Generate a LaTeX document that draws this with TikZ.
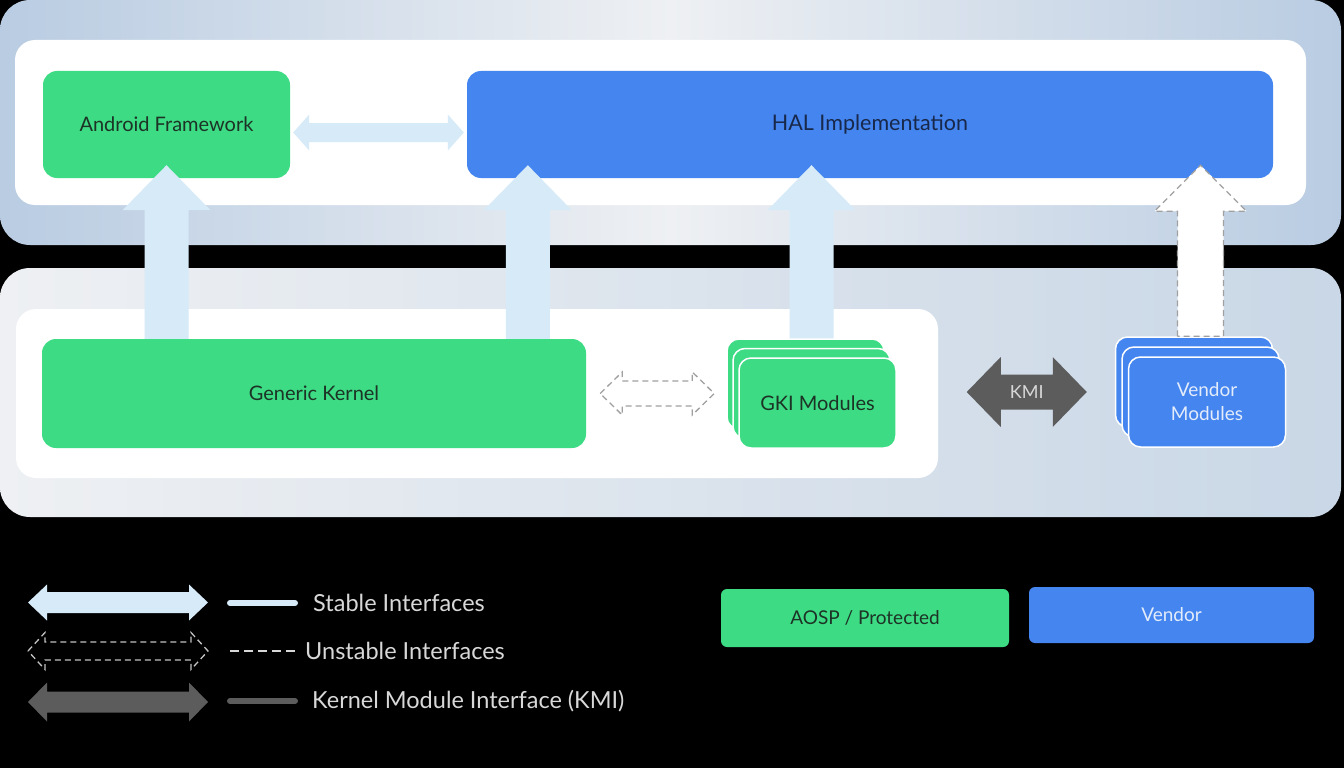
\documentclass[tikz,border=0pt]{standalone}
\usepackage{fontspec}
\setmainfont{Lato}
\usetikzlibrary{calc, positioning}

\definecolor{aospgreen}{HTML}{3DDB84}
\definecolor{vendorblue}{HTML}{4485EF}
\definecolor{stablefill}{HTML}{D6EAF8}
\definecolor{kmigray}{HTML}{5C5C5C}
\definecolor{greentext}{HTML}{1C3326}
\definecolor{bluetext}{HTML}{18284A}
\definecolor{lighttext}{HTML}{E3ECFA}
\definecolor{keygray}{HTML}{D8D8D8}
\definecolor{panelblue}{HTML}{B9CCE2}
\definecolor{panelgray}{HTML}{EEF0F3}
\definecolor{panelsteel}{HTML}{C9D7E6}
\definecolor{dashgray}{HTML}{A0A0A0}

% fat arrows drawn as outlines between two points
\tikzset{
  fat shaft/.store in=\fatshaft,
  fat head/.store in=\fathead,
  fat len/.store in=\fatlen,
  fat shaft=10pt, fat head=20pt, fat len=15pt,
  one way/.style={to path={
    ($(\tikztostart)!\fatshaft!90:(\tikztotarget)$)
    -- ($(\tikztotarget)!\fatlen!(\tikztostart)!\fatshaft!90:(\tikztotarget)$)
    -- ($(\tikztotarget)!\fatlen!(\tikztostart)!\fathead!90:(\tikztotarget)$)
    -- (\tikztotarget)
    -- ($(\tikztotarget)!\fatlen!(\tikztostart)!\fathead!-90:(\tikztotarget)$)
    -- ($(\tikztotarget)!\fatlen!(\tikztostart)!\fatshaft!-90:(\tikztotarget)$)
    -- ($(\tikztostart)!\fatshaft!-90:(\tikztotarget)$)
    -- cycle}},
  two way/.style={to path={
    (\tikztostart)
    -- ($(\tikztostart)!\fatlen!(\tikztotarget)!\fathead!90:(\tikztotarget)$)
    -- ($(\tikztostart)!\fatlen!(\tikztotarget)!\fatshaft!90:(\tikztotarget)$)
    -- ($(\tikztotarget)!\fatlen!(\tikztostart)!\fatshaft!90:(\tikztotarget)$)
    -- ($(\tikztotarget)!\fatlen!(\tikztostart)!\fathead!90:(\tikztotarget)$)
    -- (\tikztotarget)
    -- ($(\tikztotarget)!\fatlen!(\tikztostart)!\fathead!-90:(\tikztotarget)$)
    -- ($(\tikztotarget)!\fatlen!(\tikztostart)!\fatshaft!-90:(\tikztotarget)$)
    -- ($(\tikztostart)!\fatlen!(\tikztotarget)!\fatshaft!-90:(\tikztotarget)$)
    -- ($(\tikztostart)!\fatlen!(\tikztotarget)!\fathead!-90:(\tikztotarget)$)
    -- cycle}},
}

\begin{document}
\begin{tikzpicture}[x=1pt, y=-1pt,
    box/.style={rectangle, rounded corners=14pt, inner sep=0pt, font=\fontsize{20}{24}\selectfont},
    aosp/.style={box, fill=aospgreen, text=greentext},
    vendor/.style={box, fill=vendorblue, text=bluetext},
    module/.style={minimum width=157pt, minimum height=90pt, draw=white, line width=1.5pt, rounded corners=12pt},
    stable/.style={fill=stablefill},
    unstable/.style={draw=dashgray, line width=1.3pt, dash pattern=on 6pt off 4pt, fill=white},
    kmi/.style={fill=kmigray},
    keybox/.style={box, rounded corners=6pt, font=\fontsize{19}{22}\selectfont},
    keylabel/.style={text=keygray, inner sep=0pt, anchor=west, font=\fontsize{23.5}{28}\selectfont}]

    % canvas and panels
    \useasboundingbox (0,0) rectangle (1344,768);
    \fill[black] (0,0) rectangle (1344,768);
    \shade[left color=panelblue, right color=panelblue, middle color=panelgray, rounded corners=30pt] (0,0) rectangle (1341,245);
    \fill[white, rounded corners=20pt] (15,40) rectangle (1306,205);
    \shade[left color=panelgray, right color=panelsteel, rounded corners=30pt] (0,268) rectangle (1341,517);
    \fill[white, rounded corners=20pt] (16,309) rectangle (938,478);

    % Nodes
    \node (af) [aosp, minimum width=247pt, minimum height=107pt] at (166.5,124.5) {Android Framework};
    \node (hal) [vendor, minimum width=806pt, minimum height=107pt, font=\fontsize{21.5}{26}\selectfont] at (870,124.5) {HAL Implementation};
    \node (gk) [aosp, minimum width=544pt, minimum height=109pt] at (314,393.5) {Generic Kernel};

    \node (gkiback) [aosp, module] at (805.5,384) {};
    \node (gkimid) [aosp, module] at (811.5,393.5) {};
    \node (gki) [aosp, module] at (817.5,403) {GKI Modules};

    \node (vmback) [vendor, module] at (1194,382) {};
    \node (vmmid) [vendor, module] at (1200.5,392) {};
    \node (vm) [vendor, module, text=lighttext, align=center, font=\fontsize{19}{24}\selectfont] at (1207,402) {Vendor\\Modules};

    % arrow ends
    \coordinate (lr1) at ($(af.east)+(3,8)$);
    \coordinate (lr2) at ($(hal.west)+(-3,8)$);
    \coordinate (up1b) at ($(af.south)+(0,-13)$);
    \coordinate (up1a) at (gk.north -| up1b);
    \coordinate (up2b) at ($(hal.south west)+(61,-13)$);
    \coordinate (up2a) at (gk.north -| up2b);
    \coordinate (up3a) at (gkiback.north -| gkimid.north);
    \coordinate (up3b) at ($(hal.south -| up3a)+(0,-13)$);
    \coordinate (up4a) at (vmback.north -| vmmid.north);
    \coordinate (up4b) at ($(hal.south -| up4a)+(0,-13)$);
    \coordinate (un1) at ($(gk.east)+(14,0)$);
    \coordinate (un2) at ($(un1 -| gkiback.west)+(-12,0)$);
    \coordinate (km1) at ($(gki.east)+(70,-11)$);
    \coordinate (km2) at ($(vmback.west)+(-28,10)$);

    \fill[stable, two way, fat shaft=9.5pt, fat head=18pt, fat len=16pt] (lr1) to (lr2);
    \fill[stable, one way, fat shaft=22pt, fat head=44pt, fat len=45pt] (up1a) to (up1b);
    \fill[stable, one way, fat shaft=22pt, fat head=44pt, fat len=45pt] (up2a) to (up2b);
    \fill[stable, one way, fat shaft=22pt, fat head=44pt, fat len=45pt] (up3a) to (up3b);
    \draw[unstable, one way, fat shaft=23pt, fat head=46pt, fat len=46pt] (up4a) to (up4b);
    \draw[unstable, two way, fat shaft=12.5pt, fat head=21.5pt, fat len=22pt] (un1) to (un2);
    \fill[kmi, two way, fat shaft=17.5pt, fat head=35pt, fat len=34pt] (km1) to (km2);
    \node (kmilabel) [text=keygray, font=\fontsize{18}{22}\selectfont] at ($(km1)!0.5!(km2)$) {KMI};

    % legend
    \coordinate (ls1) at (28,602.5);
    \coordinate (ls2) at (208,602.5);
    \coordinate (lu1) at (28,651);
    \coordinate (lu2) at (208,651);
    \coordinate (lk1) at (28,702);
    \coordinate (lk2) at (208,702);
    \fill[stable, two way, fat shaft=10.5pt, fat head=18pt, fat len=19pt] (ls1) to (ls2);
    \draw[unstable, fill=black, draw=keygray!90!black, two way, fat shaft=9pt, fat head=18.5pt, fat len=17pt] (lu1) to (lu2);
    \fill[kmi, two way, fat shaft=10.5pt, fat head=19.5pt, fat len=19pt] (lk1) to (lk2);

    \coordinate (sl) at (295,603);
    \coordinate (ul) at (295,651);
    \coordinate (kl) at (295,701);
    \draw[stablefill, line width=6pt, line cap=round] (230,603) -- (sl);
    \draw[keygray, line width=2pt, dash pattern=on 9pt off 5pt] (230,651) -- (ul);
    \draw[kmigray, line width=6pt, line cap=round] (230,701) -- (kl);
    \node (stablekey) [keylabel, right=18pt of sl] {Stable Interfaces};
    \node (unstablekey) [keylabel, right=10pt of ul] {Unstable Interfaces};
    \node (kmikey) [keylabel, right=17pt of kl] {Kernel Module Interface (KMI)};

    \node (aospkey) [keybox, fill=aospgreen, text=greentext, minimum width=288pt, minimum height=58pt] at (865,618) {AOSP / Protected};
    \node (vendorkey) [keybox, fill=vendorblue, text=lighttext, minimum width=285pt, minimum height=56pt] at (1171.5,615) {Vendor};
\end{tikzpicture}
\end{document}
